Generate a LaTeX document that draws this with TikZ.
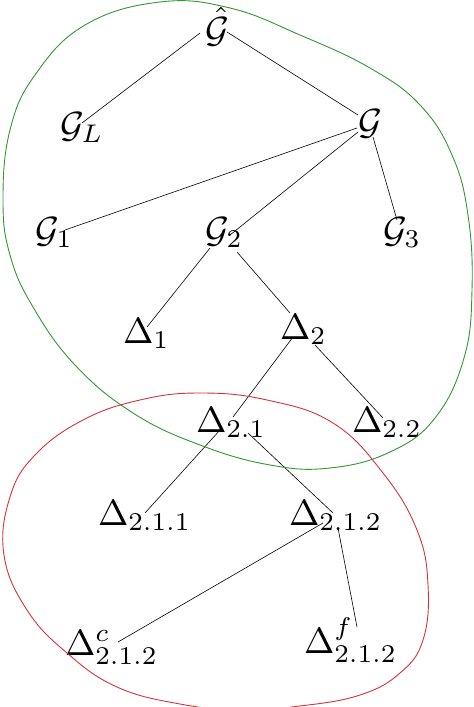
\documentclass[tikz,border=0pt]{standalone}
\begin{document}
\begin{tikzpicture}[x=1pt,y=-1pt,
  lbl/.style={anchor=base west,inner sep=0pt,outer sep=0pt,scale=3.65,font=\normalsize},
  edge/.style={draw=black,line width=0.6pt},
  greenloop/.style={draw=grn,line width=0.9pt},
  redloop/.style={draw=rd,line width=0.9pt}]
\definecolor{grn}{RGB}{50,150,50}
\definecolor{rd}{RGB}{215,50,60}
\useasboundingbox (0,0) rectangle (474,707);
\clip (0,0) rectangle (474,707);
% nodes
\node[lbl] (hatG) at (205,42) {$\hat{\mathcal{G}}$};
\node[lbl] (GL) at (60,137) {$\mathcal{G}_L$};
\node[lbl] (G) at (358,134) {$\mathcal{G}$};
\node[lbl] (G1) at (35,242) {$\mathcal{G}_1$};
\node[lbl] (G2) at (205,242) {$\mathcal{G}_2$};
\node[lbl] (G3) at (383,242) {$\mathcal{G}_3$};
\node[lbl] (D1) at (123,343) {$\Delta_1$};
\node[lbl] (D2) at (280,339) {$\Delta_2$};
\node[lbl] (D21) at (196,432) {$\Delta_{2.1}$};
\node[lbl] (D22) at (352,432) {$\Delta_{2.2}$};
\node[lbl] (D211) at (98,525) {$\Delta_{2.1.1}$};
\node[lbl] (D212) at (289,525) {$\Delta_{2.1.2}$};
\node[lbl] (Dc) at (65,655) {$\Delta^c_{2.1.2}$};
\node[lbl] (Df) at (304,653) {$\Delta^f_{2.1.2}$};
% edges
\draw[edge] ([shift={(-5,-9)}]hatG.base west) -- ([shift={(22,-14)}]GL.base west);
\draw[edge] ([shift={(22,-10)}]hatG.base west) -- ([shift={(0,-19)}]G.base west);
\draw[edge] ([shift={(-1,-6)}]G.base west) -- ([shift={(30,-12)}]G1.base west);
\draw[edge] ([shift={(0,-2)}]G.base west) -- ([shift={(25,-7)}]G2.base west);
\draw[edge] ([shift={(15,3)}]G.base west) -- ([shift={(14,-22)}]G3.base west);
\draw[edge] ([shift={(5,6)}]G2.base west) -- ([shift={(24,-16)}]D1.base west);
\draw[edge] ([shift={(32,10)}]G2.base west) -- ([shift={(10,-26)}]D2.base west);
\draw[edge] ([shift={(13,-2)}]D2.base west) -- ([shift={(37,-15)}]D21.base west);
\draw[edge] ([shift={(35,6)}]D2.base west) -- ([shift={(31,-14)}]D22.base west);
\draw[edge] ([shift={(24,-2)}]D21.base west) -- ([shift={(47,-12)}]D211.base west);
\draw[edge] ([shift={(52,1)}]D21.base west) -- ([shift={(44,-12)}]D212.base west);
\draw[edge] ([shift={(34,-2)}]D212.base west) -- ([shift={(53,-13)}]Dc.base west);
\draw[edge] ([shift={(49,3)}]D212.base west) -- ([shift={(53,-26)}]Df.base west);
% loops
\draw[greenloop] plot[smooth cycle,tension=0.7] coordinates {
 (160,2) (230,8) (300,35) (370,68) (420,105) (452,155) (468,215) (472,290)
 (464,358) (435,418) (390,452) (330,468) (270,465) (200,445) (133,413)
 (75,365) (33,307) (10,255) (3,200) (10,130) (35,75) (85,25)};
\draw[redloop] plot[smooth cycle,tension=0.7] coordinates {
 (200,393) (267,400) (333,423) (383,473) (417,530) (428,585) (423,640)
 (400,673) (360,695) (300,706) (240,710) (180,704) (117,687) (67,653)
 (27,610) (4,555) (10,497) (35,455) (83,420) (140,400)};
\end{tikzpicture}
\end{document}
